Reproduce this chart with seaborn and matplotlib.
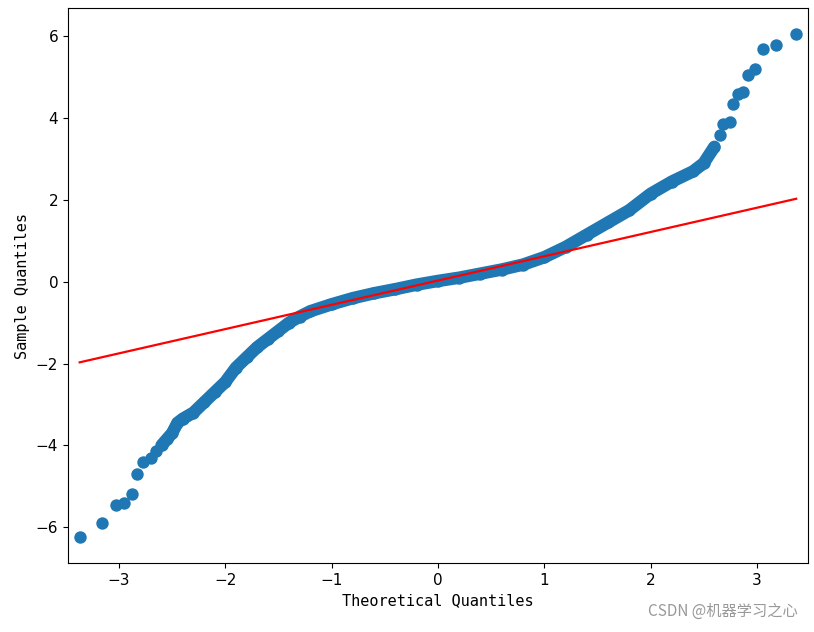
import matplotlib
matplotlib.use("Agg")
import matplotlib.pyplot as plt
import seaborn as sns
import pandas as pd

# theoretical vs sample quantiles
theo = [-3.37, -3.16, -3.03, -2.95, -2.88, -2.83, -2.77, -2.70, -2.65, -2.60,
        -2.55, -2.50, -2.45, -2.40, -2.30, -2.20, -2.10, -2.00, -1.90, -1.80,
        -1.70, -1.60, -1.50, -1.40, -1.30, -1.20, -1.00, -0.80, -0.60, -0.40,
        -0.20, 0.00, 0.20, 0.40, 0.60, 0.80, 1.00, 1.20, 1.40, 1.60,
        1.80, 2.00, 2.20, 2.40, 2.50, 2.60, 2.65, 2.68, 2.75, 2.78,
        2.82, 2.87, 2.92, 2.98, 3.06, 3.18, 3.37]
sample = [-6.25, -5.90, -5.45, -5.40, -5.20, -4.70, -4.40, -4.30, -4.15, -4.00,
          -3.85, -3.70, -3.45, -3.35, -3.20, -2.95, -2.70, -2.45, -2.10, -1.85,
          -1.60, -1.40, -1.20, -1.00, -0.85, -0.72, -0.55, -0.40, -0.28, -0.18,
          -0.07, 0.02, 0.10, 0.20, 0.30, 0.42, 0.60, 0.85, 1.15, 1.45,
          1.75, 2.15, 2.45, 2.70, 2.90, 3.30, 3.60, 3.85, 3.90, 4.35,
          4.60, 4.65, 5.05, 5.20, 5.70, 5.80, 6.05]
line_x = [-3.37, 3.37]
line_y = [-1.97, 2.03]

df = pd.DataFrame({"theo": theo, "sample": sample})
dense = df[(df.theo >= -2.6) & (df.theo <= 2.6)]

fig = plt.figure(figsize=(8.14, 6.32), dpi=100)
ax = fig.add_axes([0.0835, 0.109, 0.909, 0.878])

sns.lineplot(data=dense, x="theo", y="sample", ax=ax, color="#1f77b4",
             linewidth=9, sort=False, solid_capstyle="round")
sns.scatterplot(data=df, x="theo", y="sample", ax=ax, color="#1f77b4",
                s=80, linewidth=0)
ax.plot(line_x, line_y, color="red", linewidth=1.6)

ax.set_xlim(-3.48, 3.48)
ax.set_ylim(-6.88, 6.69)
ax.set_xticks([-3, -2, -1, 0, 1, 2, 3])
ax.set_yticks([-6, -4, -2, 0, 2, 4, 6])
ax.tick_params(labelsize=11)
ax.set_xlabel("Theoretical Quantiles", fontsize=11, family="monospace")
ax.set_ylabel("Sample Quantiles", fontsize=11, family="monospace")

fig.text(0.98, 0.02, "CSDN @机器学习之心", ha="right", va="bottom",
         fontsize=11, color="#999999",
         family=["Noto Sans CJK SC", "DejaVu Sans"])

fig.savefig("out.png", dpi=100)
